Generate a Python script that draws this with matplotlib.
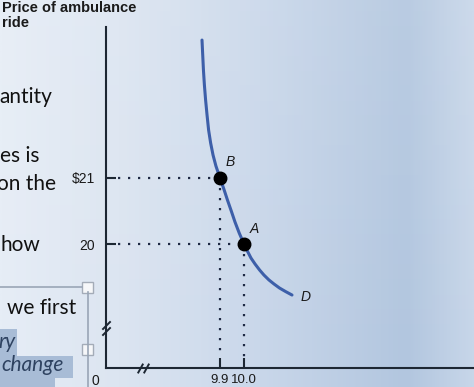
import numpy as np
import matplotlib
matplotlib.use("Agg")
import matplotlib.pyplot as plt
from matplotlib.path import Path
from matplotlib.colors import LinearSegmentedColormap
from matplotlib.transforms import offset_copy

# ---------------- data ----------------
curve_q = [9.825, 9.828, 9.831, 9.835, 9.840, 9.846, 9.8525, 9.861, 9.871,
           9.883, 9.900, 9.916, 9.931, 9.947, 9.9625, 9.980, 10.000, 10.014,
           10.029, 10.046, 10.065, 10.083, 10.104, 10.125, 10.148, 10.173,
           10.200]
curve_p = [23.09, 22.864, 22.636, 22.409, 22.182, 21.955, 21.727, 21.530,
           21.348, 21.182, 21.00, 20.833, 20.667, 20.50, 20.333, 20.167,
           20.00, 19.894, 19.788, 19.697, 19.606, 19.530, 19.455, 19.394,
           19.333, 19.280, 19.227]
point_names = ["B", "A"]
point_q = [9.9, 10.0]
point_p = [21.0, 20.0]
y_ticks = [20, 21]
y_tick_labels = ["20", "$21"]
x_ticks = [9.9, 10.0]
x_tick_labels = ["9.9", "10.0"]
y_label = "Price of ambulance\nride"
curve_label = "D"
y_break = 18.73
x_break = 9.58
slide_lines = [("antity", -1, 97, False), ("es is", 0, 156, False),
               ("on the", -3, 184, False), ("how", 0, 245, False),
               ("we first", 7, 308, False), ("ry", -2, 342, True),
               ("change", 1, 365, True)]

W, H = 474, 387
fig = plt.figure(figsize=(W / 100, H / 100), dpi=100)

def fx(x):
    return x / W

def fy(y):
    return 1 - y / H

# ---------------- background ----------------
bg = fig.add_axes([0, 0, 1, 1], zorder=-10)
cmap = LinearSegmentedColormap.from_list(
    "bg", [(0.0, "#e6edf6"), (0.25, "#dce5f1"), (0.55, "#c9d7ea"),
           (0.86, "#b2c6df"), (1.0, "#c7d6e9")])
grad = np.tile(np.linspace(0, 1, 300), (60, 1))
bg.imshow(grad, cmap=cmap, aspect="auto", extent=[0, W, H, 0])
shade = np.tile(np.linspace(0.10, 0.0, 60)[:, None], (1, 300))
bg.imshow(np.ones_like(shade), cmap=LinearSegmentedColormap.from_list("w", ["white", "white"]),
          alpha=shade, aspect="auto", extent=[0, W, H, 0])
bg.set_xlim(0, W)
bg.set_ylim(H, 0)
bg.axis("off")

# slide artefacts: highlights, text box border and handles
bg.add_patch(plt.Rectangle((0, 329), 17, 27, color="#a8bcd6", lw=0))
bg.add_patch(plt.Rectangle((0, 356), 73, 22, color="#a8bcd6", lw=0))
bg.add_patch(plt.Rectangle((0, 378), 55, 9, color="#a8bcd6", lw=0))
bg.plot([0, 82], [287, 287], color="#9aa6b6", lw=1.2)
bg.plot([88, 88], [292, 387], color="#9aa6b6", lw=1.2)
for hy in (287, 349):
    bg.add_patch(plt.Rectangle((82, hy - 5.5), 11, 11, facecolor="#f6f7f9",
                               edgecolor="#a4acb8", lw=1))

for txt, x, y, ital in slide_lines:
    fig.text(fx(x), fy(y), txt, fontsize=15, family="Lato",
             style="italic" if ital else "normal",
             color="#2e4260" if ital else "#111111",
             ha="left", va="center")

# ---------------- chart ----------------
left, right, bottom, top = 106, 474, 368, 27
ax = fig.add_axes([fx(left), fy(bottom), fx(right - left), (bottom - top) / H])
ax.patch.set_alpha(0)
q_per_px = 0.1 / 24
p_per_px = 1 / 66
ax.set_xlim(9.9 - (220 - left) * q_per_px, 9.9 + (right - 220) * q_per_px)
ax.set_ylim(20 - (bottom - 244) * p_per_px, 21 + (178 - top) * p_per_px)

axis_col = "#1d2733"
for s in ("top", "right"):
    ax.spines[s].set_visible(False)
for s in ("left", "bottom"):
    ax.spines[s].set_color(axis_col)
    ax.spines[s].set_linewidth(1.5)

ax.set_xticks(x_ticks, x_tick_labels)
ax.set_yticks(y_ticks, y_tick_labels)
ax.tick_params(axis="both", direction="in", length=7.5, width=1.5,
               color=axis_col, labelsize=10, labelcolor="#1a1a1a")
ax.tick_params(axis="y", pad=8)
ax.tick_params(axis="x", pad=4, labelsize=9.5)
for lab in ax.get_xticklabels() + ax.get_yticklabels():
    lab.set_family("Liberation Sans")

dot_col = "#1f2a44"
x0 = ax.get_xlim()[0]
y0 = ax.get_ylim()[0]
for q, p in zip(point_q, point_p):
    ax.plot([x0 + 12 * q_per_px, q], [p, p], ls=(0, (1, 3.5)), lw=1.6,
            color=dot_col)
    ax.plot([q, q], [p, y0 + 11 * p_per_px], ls=(0, (1, 3.5)), lw=1.6,
            color=dot_col)

ax.plot(curve_q, curve_p, color="#3d5fa9", lw=2.2, solid_capstyle="round",
        solid_joinstyle="round", zorder=3)
ax.plot(point_q, point_p, "o", color="black", ms=9, zorder=4)

lab_kw = dict(textcoords="offset points", fontsize=10, style="italic",
              family="Liberation Sans", ha="center", va="center",
              color="#1a1a1a")
ax.annotate(point_names[0], (point_q[0], point_p[0]), xytext=(7.5, 11.5), **lab_kw)
ax.annotate(point_names[1], (point_q[1], point_p[1]), xytext=(7.5, 10.5), **lab_kw)
ax.annotate(curve_label, (curve_q[-1], curve_p[-1]), xytext=(9.5, -1.5), **lab_kw)

# axis breaks
slash_y = Path([(-1, -1), (1, 1)], [Path.MOVETO, Path.LINETO])
slash_x = Path([(-0.55, -1), (0.55, 1)], [Path.MOVETO, Path.LINETO])
ytr = ax.get_yaxis_transform()
xtr = ax.get_xaxis_transform()
for dy in (2.0, -2.0):
    ax.plot([0], [y_break], marker=slash_y, ms=6, mew=1.4, color=axis_col,
            transform=offset_copy(ytr, fig=fig, x=0, y=dy, units="points"),
            clip_on=False)
for dx in (-2.3, 2.3):
    ax.plot([x_break], [0], marker=slash_x, ms=7, mew=1.4, color=axis_col,
            transform=offset_copy(xtr, fig=fig, x=dx, y=0, units="points"),
            clip_on=False)

fig.text(fx(95), fy(381), "0", fontsize=10, family="Liberation Sans",
         ha="center", va="center", color="#1a1a1a")
fig.text(fx(2), fy(1), y_label, fontsize=10.5, fontweight="bold",
         family="Liberation Sans", ha="left", va="top", color="#1a1a1a",
         linespacing=1.1)

fig.savefig("out.png", dpi=100)
